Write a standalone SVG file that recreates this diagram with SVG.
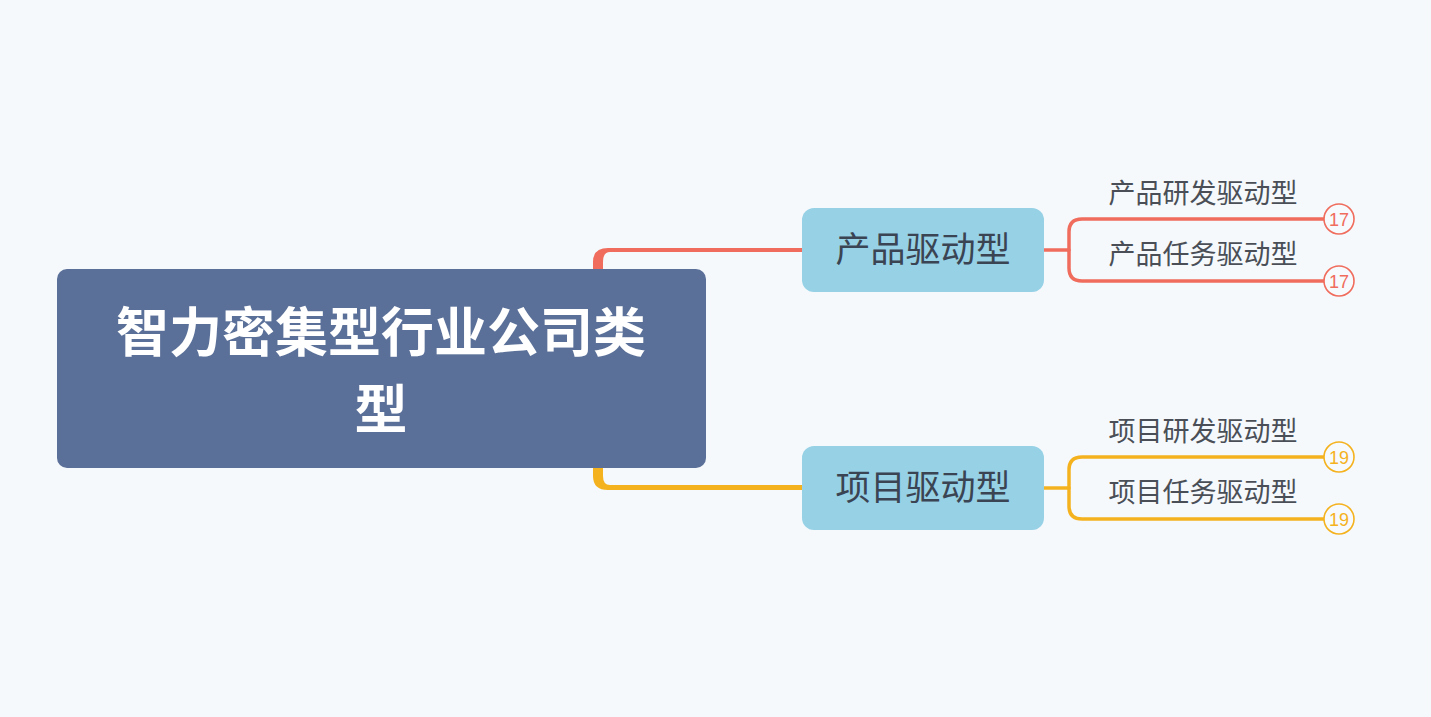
<svg xmlns="http://www.w3.org/2000/svg" width="1431" height="717" viewBox="0 0 1431 717">
<style>
.root{fill:#5a7098}
.rootText{font-family:"Noto Sans CJK SC","Liberation Sans",sans-serif;font-size:53px;font-weight:bold;fill:#ffffff;text-anchor:middle}
.mid{fill:#96d1e6}
.midText{font-family:"Noto Sans CJK SC","Liberation Sans",sans-serif;font-size:35px;fill:#3a4452;text-anchor:middle}
.leafText{font-family:"Noto Sans CJK SC","Liberation Sans",sans-serif;font-size:27px;fill:#4a4f57;text-anchor:middle}
.num{font-family:"Liberation Sans","Noto Sans",sans-serif;font-size:18px;text-anchor:middle}
.red{stroke:#f06c5c}
.org{stroke:#f5b21f}
.line{fill:none;stroke-width:3.5;stroke-linecap:round;stroke-linejoin:round}
.badge{fill:#f6fafd;stroke-width:1.6}
</style>
<rect width="1431" height="717" fill="#f5f9fc"/>
<g id="connectors">
  <path d="M593,272 L593,262 Q593,248 608,248 L803,248 L803,252 L610,252 Q603,252 603,262 L603,272 Z" fill="#f06c5c"/>
  <path d="M593,466 L593,476 Q593,490 608,490 L803,490 L803,485 L610,485 Q603,485 603,476 L603,466 Z" fill="#f5b21f"/>
  <path class="line red" d="M1044,250 L1069,250"/>
  <path class="line red" d="M1325,219 L1082,219 Q1069,219 1069,232 L1069,268 Q1069,281 1082,281 L1325,281"/>
  <path class="line org" d="M1044,488 L1069,488"/>
  <path class="line org" d="M1325,457 L1082,457 Q1069,457 1069,470 L1069,506 Q1069,519 1082,519 L1325,519"/>
</g>
<g id="root">
  <rect class="root" x="57" y="269" width="649" height="199" rx="10"/>
  <text class="rootText" x="381" y="352">智力密集型行业公司类</text>
  <text class="rootText" x="381" y="429">型</text>
</g>
<g id="node-product">
  <rect class="mid" x="802" y="208" width="242" height="84" rx="12"/>
  <text class="midText" x="923" y="262">产品驱动型</text>
</g>
<g id="node-project">
  <rect class="mid" x="802" y="446" width="242" height="84" rx="12"/>
  <text class="midText" x="923" y="500">项目驱动型</text>
</g>
<g id="leaf-p1">
  <text class="leafText" x="1203" y="203">产品研发驱动型</text>
  <circle class="badge red" cx="1339" cy="219" r="15"/>
  <text class="num" x="1339" y="225.5" fill="#f06c5c">17</text>
</g>
<g id="leaf-p2">
  <text class="leafText" x="1203" y="264">产品任务驱动型</text>
  <circle class="badge red" cx="1339" cy="281" r="15"/>
  <text class="num" x="1339" y="287.5" fill="#f06c5c">17</text>
</g>
<g id="leaf-j1">
  <text class="leafText" x="1203" y="441">项目研发驱动型</text>
  <circle class="badge org" cx="1339" cy="457" r="15"/>
  <text class="num" x="1339" y="463.5" fill="#f5b21f">19</text>
</g>
<g id="leaf-j2">
  <text class="leafText" x="1203" y="502">项目任务驱动型</text>
  <circle class="badge org" cx="1339" cy="519" r="15"/>
  <text class="num" x="1339" y="525.5" fill="#f5b21f">19</text>
</g>
</svg>
